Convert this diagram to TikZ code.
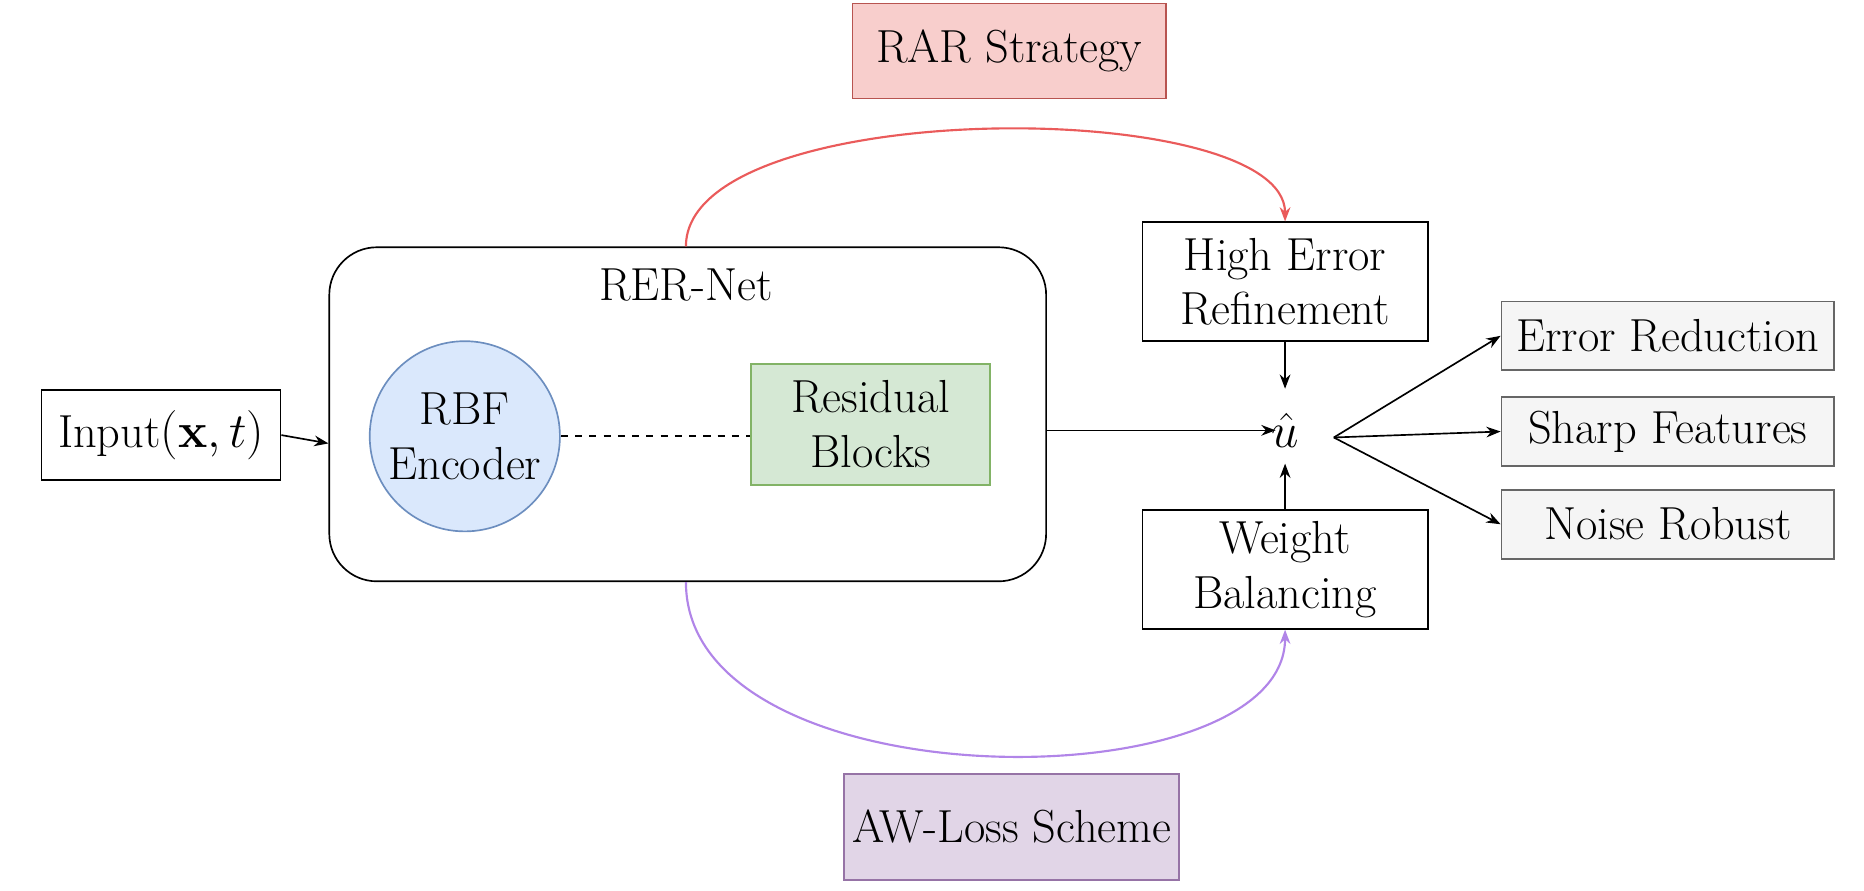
\documentclass[tikz,border=0pt]{standalone}
\usepackage{amsmath}
\usetikzlibrary{arrows.meta}
\definecolor{rarf}{HTML}{F8CECC}\definecolor{rard}{HTML}{B85450}
\definecolor{rbff}{HTML}{DAE8FC}\definecolor{rbfd}{HTML}{6C8EBF}
\definecolor{resf}{HTML}{D5E8D4}\definecolor{resd}{HTML}{82B366}
\definecolor{outf}{HTML}{F5F5F5}\definecolor{outd}{HTML}{666666}
\definecolor{awf}{HTML}{E1D5E7}\definecolor{awd}{HTML}{9673A6}
\definecolor{redc}{HTML}{EA5B5B}\definecolor{purc}{HTML}{B185E8}
\begin{document}
\begin{tikzpicture}[x=0.5pt,y=-0.5pt,
  every node/.style={font=\fontsize{19.5}{23}\selectfont, align=center, inner sep=0pt},
  box/.style={draw, line width=0.7pt},
  arr/.style={-{Stealth[length=6pt,width=4.5pt]}, line width=0.7pt}]
\node[box, fill=rarf, draw=rard, minimum width=132pt, minimum height=40pt] (rar) at (849,43) {RAR Strategy};
\node[box, minimum width=100.5pt, minimum height=38pt] (in) at (135.5,366) {Input$(\mathbf{x},t)$};
\node[box, rounded corners=20pt, minimum width=301.5pt, minimum height=140.5pt] (rer) at (578.5,348.5) {};
\node (rerl) at (577,240) {RER-Net};
\node[circle, box, fill=rbff, draw=rbfd, minimum size=80pt] (rbf) at (391,367) {RBF\\Encoder};
\node[box, fill=resf, draw=resd, minimum width=100.5pt, minimum height=51pt] (res) at (732.5,357) {Residual\\Blocks};
\node[box, minimum width=120pt, minimum height=50pt] (her) at (1081,237) {High Error\\Refinement};
\node[box, minimum width=120pt, minimum height=50pt] (wb) at (1081,479) {Weight\\Balancing};
\node (u) at (1081,362) {$\hat{u}$};
\node[box, fill=outf, draw=outd, minimum width=140pt, minimum height=29pt] (o1) at (1403,282.5) {Error Reduction};
\node[box, fill=outf, draw=outd, minimum width=140pt, minimum height=29pt] (o2) at (1403,363) {Sharp Features};
\node[box, fill=outf, draw=outd, minimum width=140pt, minimum height=29pt] (o3) at (1403,441) {Noise Robust};
\node[box, fill=awf, draw=awd, minimum width=141pt, minimum height=44.5pt] (aw) at (851,695.5) {AW-Loss Scheme};
\coordinate (us) at (1122,368);
\draw[arr] (in.east) -- (rer.west |- 0,373);
\draw[dashed, line width=0.7pt] (rbf.east) -- (res.west |- rbf.east);
\draw[arr] (rer.east |- 0,362) -- (1073,362);
\draw[arr] (her.south) -- (1081,327);
\draw[arr] (wb.north) -- (1081,390);
\draw[arr] (us) -- (o1.west);
\draw[arr] (us) -- (o2.west);
\draw[arr] (us) -- (o3.west);
\draw[arr, draw=redc, line width=0.9pt] (rer.north -| 577,0) .. controls (577,80) and (1081,80) .. (her.north);
\draw[arr, draw=purc, line width=0.9pt] (rer.south -| 577,0) .. controls (577,677) and (1081,677) .. (wb.south);
\pgfresetboundingbox
\useasboundingbox (0,0) rectangle (1568,749);
\end{tikzpicture}
\end{document}
